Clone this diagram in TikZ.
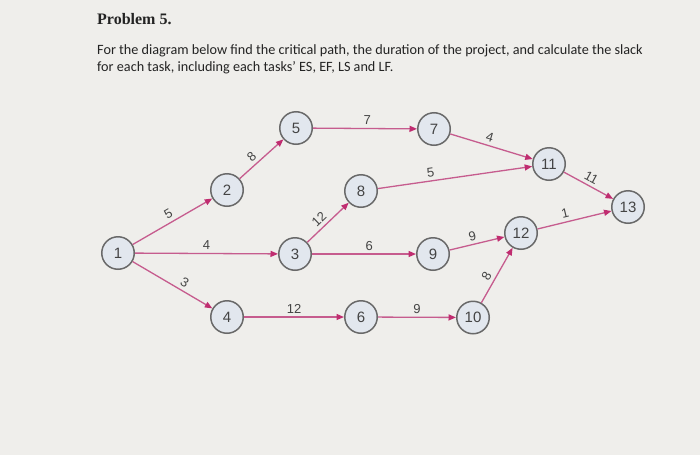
\documentclass[tikz,border=0pt]{standalone}
\usepackage{fontspec}
\setmainfont{Liberation Serif}
\newfontfamily\calfont{Carlito}
\newfontfamily\helfont{Liberation Sans}
\usetikzlibrary{arrows.meta}
\definecolor{bg}{RGB}{239,238,235}
\definecolor{arr}{RGB}{198,92,142}
\definecolor{tip}{RGB}{192,45,112}
\definecolor{nfill}{RGB}{226,231,238}
\definecolor{nline}{RGB}{105,105,105}
\definecolor{txt}{RGB}{35,35,35}
\begin{document}
\begin{tikzpicture}[x=1pt,y=-1pt,
  ev/.style={circle, draw=nline, fill=nfill, line width=1.5pt, minimum size=32.5pt, inner sep=0pt, font=\helfont\fontsize{15}{15}\selectfont, text=txt!85},
  act/.style={draw=arr, line width=1.3pt, -{Triangle[length=7.5pt,width=6pt,color=tip]}},
  lab/.style={font=\helfont\fontsize{13}{13}\selectfont, text=txt!85, sloped, above, inner sep=3.2pt}]
\fill[bg] (0,0) rectangle (700,455);
\useasboundingbox (0,0) rectangle (700,455);
% text
\node[anchor=base west, font=\fontsize{16}{16}\selectfont\bfseries, text=txt, inner sep=0] (title) at (97,24.5) {Problem 5.};
\node[anchor=base west, font=\calfont\fontsize{14.2}{14.2}\selectfont, text=txt, inner sep=0] (l1) at (97,54) {For the diagram below find the critical path, the duration of the project, and calculate the slack};
\node[anchor=base west, font=\calfont\fontsize{14.2}{14.2}\selectfont, text=txt, inner sep=0] (l2) at (97,71) {for each task, including each tasks’ ES, EF, LS and LF.};
% nodes
\node[ev] (n1) at (118,253) {1};
\node[ev] (n2) at (227,190) {2};
\node[ev] (n3) at (295,254) {3};
\node[ev] (n4) at (227,317) {4};
\node[ev] (n5) at (296,128) {5};
\node[ev] (n6) at (361,317) {6};
\node[ev] (n7) at (434,129) {7};
\node[ev] (n8) at (361,191) {8};
\node[ev] (n9) at (433,254) {9};
\node[ev] (n10) at (473,317.5) {10};
\node[ev] (n11) at (549,164) {11};
\node[ev] (n12) at (521,233) {12};
\node[ev] (n13) at (628,207) {13};
% activities
\draw[act] (n1) -- node[lab, pos=0.5] {5} (n2);
\draw[act] (n1) -- node[lab, pos=0.5] {4} (n3);
\draw[act] (n1) -- node[lab, pos=0.6] {3} (n4);
\draw[act] (n2) -- node[lab, pos=0.4] {8} (n5);
\draw[act] (n3) -- node[lab, pos=0.42] {12} (n8);
\draw[act] (n3) -- node[lab, pos=0.55] {6} (n9);
\draw[act] (n4) -- node[lab, pos=0.5] {12} (n6);
\draw[act] (n5) -- node[lab, pos=0.52] {7} (n7);
\draw[act] (n8) -- node[lab, pos=0.35] {5} (n11);
\draw[act] (n7) -- node[lab, pos=0.45] {4} (n11);
\draw[act] (n6) -- node[lab, pos=0.5] {9} (n10);
\draw[act] (n9) -- node[lab, pos=0.45] {9} (n12);
\draw[act] (n10) -- node[lab, pos=0.4] {8} (n12);
\draw[act] (n11) -- node[lab, pos=0.48] {11} (n13);
\draw[act] (n12) -- node[lab, pos=0.4] {1} (n13);
\end{tikzpicture}
\end{document}
